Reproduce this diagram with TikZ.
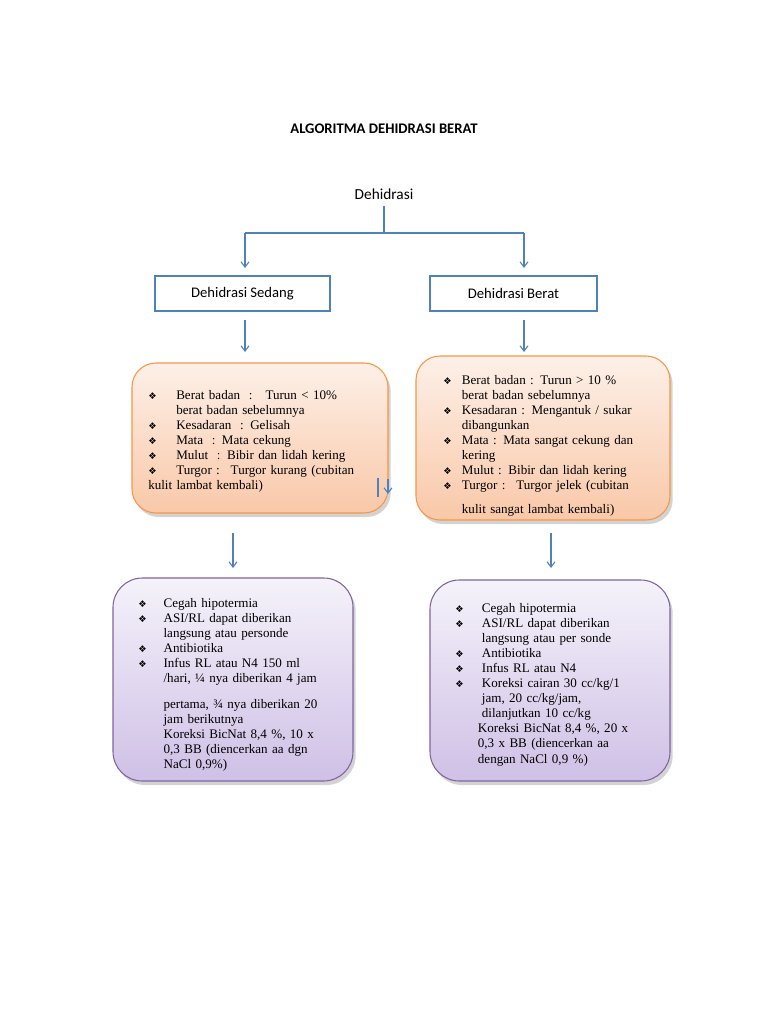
\documentclass[tikz,border=0pt]{standalone}
\usepackage{fontspec}
\setmainfont{Liberation Serif}
\newfontfamily\sansf{Carlito}
\newfontfamily\djv{DejaVu Sans}
\usetikzlibrary{shadows,arrows.meta}
\definecolor{lblue}{HTML}{4F81BD}
\definecolor{obord}{HTML}{F79646}
\definecolor{otop}{HTML}{FDF0E8}
\definecolor{obot}{HTML}{F9C8A8}
\definecolor{pbord}{HTML}{8064A2}
\definecolor{ptop}{HTML}{F5F2FA}
\definecolor{pbot}{HTML}{CFC0E6}
\newcommand{\bul}{{\djv\fontsize{7pt}{8pt}\selectfont ❖}}
\newcommand{\itm}[1]{\par\noindent\hangindent=\myind\hangafter=1\hbox to \myind{\bul\hfil}#1}
\newcommand{\cnt}[1]{\par\noindent\hangindent=\myind\hspace*{\myind}#1}
\newlength{\myind}
\begin{document}
\begin{tikzpicture}[x=0.75pt,y=-0.75pt,
  arr/.style={draw=lblue,line width=0.8pt,-{Straight Barb[length=4pt,width=6pt]}},
  ln/.style={draw=lblue,line width=0.8pt},
  bx/.style={draw=lblue,line width=1.4pt,minimum height=26pt,font=\sansf\fontsize{11pt}{13pt}\selectfont},
  obox/.style={draw=obord,line width=0.8pt,rounded corners=18pt,top color=otop,bottom color=obot,drop shadow={opacity=0.35,shadow xshift=2pt,shadow yshift=-3pt}},
  pbox/.style={draw=pbord,line width=0.8pt,rounded corners=22pt,top color=ptop,bottom color=pbot,drop shadow={opacity=0.35,shadow xshift=2pt,shadow yshift=-3pt}},
  txt/.style={anchor=north west,inner sep=0pt,align=left,font=\fontsize{9.8pt}{11.3pt}\selectfont}]
\useasboundingbox (0,0) rectangle (768,1024);
\node (title) at (384,129) {\sansf\bfseries\fontsize{11pt}{13pt}\selectfont ALGORITMA DEHIDRASI BERAT};
\node (dh) at (384,194) {\sansf\fontsize{11.5pt}{13pt}\selectfont Dehidrasi};
\coordinate (j) at (384,233);
\coordinate (jl) at (245,233);
\coordinate (jr) at (524,233);
\draw[ln] (384,206) -- (j);
\draw[ln] (jl) -- (jr);
\node[bx,minimum width=131pt] (ds) at (242.5,293.5) {Dehidrasi Sedang};
\node[bx,minimum width=125pt] (db) at (513.5,293.5) {Dehidrasi Berat};
\draw[arr] (jl) -- (245,268);
\draw[arr] (jr) -- (524,268);
\coordinate (a1) at (245,320); \coordinate (a1e) at (245,352);
\coordinate (a2) at (524,320); \coordinate (a2e) at (524,352);
\draw[arr] (a1) -- (a1e);
\draw[arr] (a2) -- (a2e);
\path[obox] (132,363) rectangle (388,513);
\path[obox] (416,356) rectangle (670,520);
\draw[ln] (378,478) -- (378,497);
\draw[arr] (388,479) -- (388,494);
\node[txt,text width=165pt] (t1) at (148,384) {\setlength{\myind}{21pt}%
\itm{Berat badan\ \ :\ \ \ Turun < 10\%}
\cnt{berat badan sebelumnya}
\itm{Kesadaran\ \ : Gelisah}
\itm{Mata\ \ : Mata cekung}
\itm{Mulut\ \ : Bibir dan lidah kering}
\itm{Turgor : \ Turgor kurang (cubitan}
\par\noindent\hspace*{0pt}kulit lambat kembali)};
\node[txt,text width=170pt] (t2) at (443,369) {\setlength{\myind}{14pt}%
\itm{Berat badan : Turun > 10 \%}
\cnt{berat badan sebelumnya}
\itm{Kesadaran : Mengantuk / sukar}
\cnt{dibangunkan}
\itm{Mata : Mata sangat cekung dan}
\cnt{kering}
\itm{Mulut : Bibir dan lidah kering}
\itm{Turgor : \ Turgor jelek (cubitan}
\cnt{\rule{0pt}{15pt}kulit sangat lambat kembali)}};
\coordinate (b1) at (233,533); \coordinate (b1e) at (233,568);
\coordinate (b2) at (551,533); \coordinate (b2e) at (551,568);
\draw[arr] (b1) -- (b1e);
\draw[arr] (b2) -- (b2e);
\path[pbox] (113,578) rectangle (353,781);
\path[pbox] (430,580) rectangle (670,781);
\node[txt,text width=150pt] (t3) at (138,592) {\setlength{\myind}{19pt}%
\itm{Cegah hipotermia}
\itm{ASI/RL dapat diberikan}
\cnt{langsung atau personde}
\itm{Antibiotika}
\itm{Infus RL atau N4 150 ml}
\cnt{/hari, ¼ nya diberikan 4 jam}
\cnt{\rule{0pt}{16pt}pertama, ¾ nya\ diberikan 20}
\cnt{jam berikutnya}
\cnt{Koreksi BicNat 8,4 \%, 10 x}
\cnt{0,3 BB (diencerkan aa dgn}
\cnt{NaCl 0,9\%)}};
\node[txt,text width=150pt] (t4) at (455,597) {\setlength{\myind}{20pt}%
\itm{Cegah hipotermia}
\itm{ASI/RL dapat diberikan}
\cnt{langsung atau per sonde}
\itm{Antibiotika}
\itm{Infus RL atau N4}
\itm{Koreksi cairan 30 cc/kg/1}
\cnt{jam, 20 cc/kg/jam,}
\cnt{dilanjutkan 10 cc/kg}
\par\noindent\hspace*{17pt}Koreksi BicNat 8,4 \%, 20 x
\par\noindent\hspace*{17pt}0,3 x BB (diencerkan aa
\par\noindent\hspace*{17pt}dengan NaCl 0,9 \%)};
\end{tikzpicture}
\end{document}
